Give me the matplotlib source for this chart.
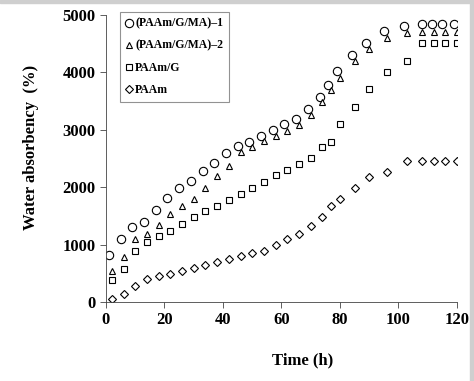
import matplotlib.pyplot as plt
from matplotlib.patches import Rectangle

plt.rcParams['font.family'] = ['Liberation Serif', 'DejaVu Serif']
plt.rcParams['font.weight'] = 'bold'

# data
t_ma1 = [1, 5, 9, 13, 17, 21, 25, 29, 33, 37, 41, 45, 49, 53, 57, 61, 65,
         69, 73, 76, 79, 84, 89, 95, 102, 108, 111.5, 115, 119]
ma1 = [820, 1100, 1300, 1400, 1600, 1820, 1990, 2100, 2280, 2430, 2590, 2720,
       2790, 2900, 3000, 3100, 3180, 3360, 3580, 3780, 4030, 4310, 4520, 4730,
       4810, 4840, 4840, 4840, 4840]

t_rest = [2, 6, 10, 14, 18, 22, 26, 30, 34, 38, 42, 46, 50, 54, 58, 62, 66,
          70, 74, 77, 80, 85, 90, 96, 103, 108, 112, 116, 120]
ma2 = [540, 790, 1090, 1185, 1336, 1528, 1667, 1794, 1991, 2195, 2375, 2608,
       2706, 2800, 2892, 2984, 3084, 3258, 3490, 3693, 3908, 4199, 4402, 4605,
       4681, 4700, 4700, 4700, 4700]
paam_g = [383, 575, 888, 1040, 1147, 1245, 1353, 1475, 1585, 1678, 1782, 1882,
          1981, 2096, 2207, 2300, 2399, 2503, 2695, 2793, 3105, 3403, 3711, 4002,
          4204, 4507, 4507, 4507, 4507]
paam = [47, 145, 284, 406, 458, 493, 545, 592, 645, 692, 744, 796, 848, 894,
        993, 1092, 1185, 1324, 1486, 1672, 1794, 1991, 2172, 2260, 2462, 2462,
        2462, 2462, 2462]

labels = ['(PAAm/G/MA)\u20131', '(PAAm/G/MA)\u20132', 'PAAm/G', 'PAAm']

fig = plt.figure(figsize=(4.74, 3.81), dpi=100)
ax = fig.add_axes([0.2236, 0.2073, 0.7405, 0.7533])

style = dict(linestyle='none', mfc='white', mec='black', mew=0.8)
ax.plot(t_ma1, ma1, marker='o', ms=6, label=labels[0], **style)
ax.plot(t_rest, ma2, marker='^', ms=5, label=labels[1], **style)
ax.plot(t_rest, paam_g, marker='s', ms=5, label=labels[2], **style)
ax.plot(t_rest, paam, marker='D', ms=4, label=labels[3], **style)

ax.set_xlim(0, 120)
ax.set_ylim(0, 5000)
ax.set_xticks(range(0, 121, 20))
ax.set_yticks(range(0, 5001, 1000))
ax.spines['top'].set_visible(False)
ax.spines['right'].set_visible(False)
for s in ('left', 'bottom'):
    ax.spines[s].set_linewidth(0.6)
    ax.spines[s].set_color('#444444')
ax.tick_params(direction='out', length=4, width=0.6, color='#444444',
               labelsize=12)

ax.set_xlabel('Time (h)', fontsize=12, fontweight='bold')
ax.set_ylabel('Water absorbency  (%)', fontsize=12, fontweight='bold')
ax.xaxis.set_label_coords(0.56, -0.175)
ax.yaxis.set_label_coords(-0.19, 0.54)

leg = ax.legend(loc='upper left', bbox_to_anchor=(0.253, 0.969),
                bbox_transform=fig.transFigure, frameon=True, fancybox=False,
                prop={'size': 8.5, 'weight': 'bold'}, handlelength=0.6,
                handletextpad=0.2, labelspacing=0.85, borderpad=0.5,
                borderaxespad=0)
leg.get_frame().set_edgecolor('#777777')
leg.get_frame().set_linewidth(0.8)

# light grey border at the top and right of the picture
fig.patches.append(Rectangle((0, 0.992), 1, 0.008, transform=fig.transFigure,
                             color='#cfcfcf', zorder=-1))
fig.patches.append(Rectangle((0.992, 0), 0.008, 1, transform=fig.transFigure,
                             color='#cfcfcf', zorder=-1))

fig.savefig('out.png', dpi=100)
